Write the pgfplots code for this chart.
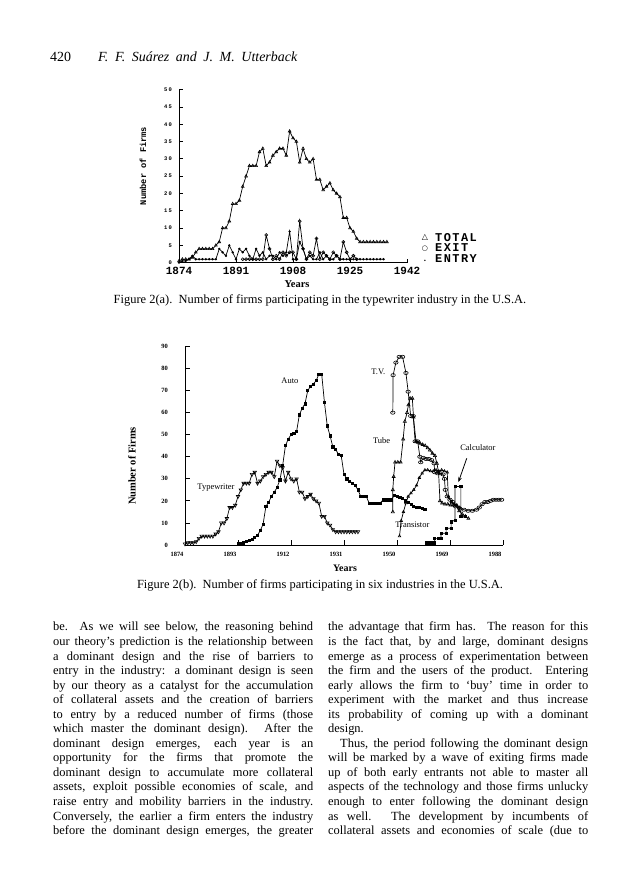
\documentclass[border=0pt]{standalone}
\usepackage{fontspec}
\setmainfont{Liberation Serif}
\newfontfamily\mono{Liberation Mono}
\newfontfamily\monols[LetterSpace=12]{Liberation Mono}
\newfontfamily\dejavu{DejaVu Sans}
\usepackage{pgfplots}
\pgfplotsset{compat=1.18}
\usepackage{pgfplotstable}
\usetikzlibrary{arrows.meta}

\pgfplotstableread{
yr v
1874 0.5
1875 1
1876 1
1877 1
1878 1.5
1879 3
1880 4
1881 4
1882 4
1883 4
1884 4
1885 5
1886 6
1887 10
1888 10
1889 12
1890 17
1891 17
1892 18
1893 22
1894 25
1895 28
1896 28
1897 28
1898 32
1899 33
1900 28
1901 29
1902 31
1903 32
1904 33
1905 33
1906 31
1907 38
1908 36
1909 35
1910 29
1911 33
1912 30
1913 29
1914 30
1915 24
1916 24
1917 21
1918 22
1919 23
1920 21
1921 20
1922 19
1923 13
1924 13
1925 10
1926 9
1927 7
1928 6
1929 6
1930 6
1931 6
1932 6
1933 6
1934 6
1935 6
1936 6
}\typewriter

\pgfplotstableread{
yr v
1874 0
1875 0.5
1876 0.5
1877 1
1878 2
1879 1
1880 1
1881 1
1882 1
1883 1
1884 1
1885 1
1886 4
1887 3
1888 2
1889 5
1890 3
1891 1
1892 4
1893 3
1894 4
1895 2
1896 1
1897 4
1898 2
1899 3
1900 1
1901 2
1902 2
1903 1
1904 3
1905 2
1906 3
1907 9
1908 1
1909 1
1910 6
1911 4
1912 1
1913 2
1914 1
1915 1
1916 3
1917 1
1918 2
1919 1
1920 1
1921 2
1922 1
1923 1
1924 1
1925 1
1926 1
1927 1
1928 1
1929 1
1930 1
1931 1
1932 1
1933 1
1934 1
1935 1
}\entry

\pgfplotstableread{
yr v
1893 1
1894 1
1895 1
1896 1
1897 1
1898 1
1899 1
1900 8
1901 4
1902 1
1903 2
1904 1
1905 3
1906 2
1907 3
1908 3
1909 1
1910 12
1911 4
1912 1
1913 3
1914 2
1915 7
1916 1
1917 3
1918 2
1919 1
1920 3
1921 2
1922 1
1923 6
1924 3
1925 1
1926 2
1927 1
}\exit

\pgfplotstableread{
yr v
1893 0.5
1894 0.5
1895 1
1896 1.5
1897 2
1898 2.5
1899 3.5
1900 4.5
1901 6.5
1902 9.5
1903 17.5
1904 19.5
1905 22
1906 24
1907 26
1908 29.5
1909 36
1910 45
1911 48
1912 50
1913 50.5
1914 51.5
1915 59
1916 62
1917 64
1918 70
1919 72
1920 73
1921 74.5
1922 77.5
1923 77.5
1924 64.5
1925 54
1926 49.5
1927 44.5
1928 43.5
1929 41
1930 40.5
1931 32
1932 30
1933 29
1934 28
1935 27
1936 25
1937 22
1938 22
1939 22
1940 19
1941 19
1942 19
1943 19
1944 19
1945 20.5
1946 20.5
1947 20.5
1948 20.5
1949 22.5
1950 22
1951 21.5
1952 21
1953 20
1954 19.5
1955 18.5
1956 17.5
1957 17
1958 17
1959 16.5
1960 16
}\auto

\pgfplotstableread{
yr v
1948.5 60
1948.6 77
1949.6 82.7
1950.8 85.3
1952 85.3
1953.2 78
1954 69.5
1954.9 58.5
1955.8 58.5
1956.5 47
1957.4 47
1958.2 40
1958.5 37.5
1959.4 39.5
1960.4 39
1961.4 39
1962.4 38.5
1963.3 37
1963.5 33
1964.5 32.5
1965.5 32.5
1966.5 32
1967 30
1967.3 25
1968 22
1969 20.5
1970 19.5
1971 17.5
1972.5 16.5
1974 16
1975.5 15.5
1977 15.5
1978.5 16
1979.5 17
1980.5 18.5
1981.5 19.5
1982.5 19.5
1983.5 20
1984.5 20.5
1985.5 20.5
1986.5 20.5
1987.5 20.5
}\tv

\pgfplotstableread{
yr v
1948.5 15
1948.5 25
1948.8 31
1949.3 37.5
1950.3 37.5
1951.3 37.5
1952.2 48
1952.8 56
1953.6 60
1954.1 63.5
1954.7 66.5
1955.5 66.5
1955.9 58
1956.8 47
1957.5 46.5
1958.3 46
1959.2 45.5
1960.1 45
1961 44
1961.8 43
1962.7 41.5
1963.6 40.5
1964.3 37
1964.9 33
1965.4 20
1966.2 19
1967.2 18.5
1968.2 18.5
1969.2 18
1970.2 18
1971.2 18
1972.3 15.5
1973.4 14
1974.5 13
1975.6 12
}\tube

\pgfplotstableread{
yr v
1950.9 4
1951.5 11
1952.3 15
1953.2 19
1954 22
1955 23.5
1956 25
1957 27
1958 30.5
1959 32.5
1960 34
1961 34
1962 33.5
1963 33.5
1964 34
1965 33.5
1966 34
1967 33.5
1968 33
1968.4 22
1969.5 19.5
1970.5 18.5
1971.5 18
1972.5 17
}\transistor

\pgfplotstableread{
yr v
1960.7 1
1962.1 1
1963.5 1
1963.5 3
1964.7 3
1965.8 3
1965.8 5.3
1967.6 5.3
1967.6 7.6
1969.4 7.6
1969.4 10.5
1970.8 11.3
1970.8 26.5
1972.9 26.5
1972.9 13
1974.4 13
}\calc

\newcommand{\bodyline}[1]{\makebox[260bp][s]{#1}\\}

\begin{document}
\begin{tikzpicture}[x=1bp,y=1bp]
\useasboundingbox (0,0) rectangle (638,896);

% ---------- running head ----------
\node[anchor=base west, inner sep=0, font=\fontsize{14}{16}\selectfont] at (50,834) {420};
\node[anchor=base west, inner sep=0, font=\fontsize{14}{16}\selectfont\itshape] at (98,834) {\makebox[199bp][s]{F. F. Suárez and J. M. Utterback}};

% ---------- Figure 2(a) ----------
\begin{axis}[
  at={(179bp,633.3bp)}, anchor=south west,
  scale only axis, width=228bp, height=173bp,
  xmin=1874, xmax=1942, ymin=0, ymax=50,
  axis x line=bottom, axis y line=left,
  axis line style={-, line width=0.9bp},
  tick align=inside, major tick length=4bp,
  tick style={line width=0.8bp, black},
  xtick={1874,1891,1908,1925,1942},
  xticklabels={1874,1891,1908,1925,1942},
  xticklabel style={font=\mono\bfseries\fontsize{11}{11}\selectfont, inner sep=0pt, yshift=-4.5bp},
  ytick={0,5,...,50},
  yticklabels={0,5,1\hspace{1bp}0,1\hspace{1bp}5,2\hspace{1bp}0,2\hspace{1bp}5,3\hspace{1bp}0,3\hspace{1bp}5,4\hspace{1bp}0,4\hspace{1bp}5,5\hspace{1bp}0},
  yticklabel style={font=\mono\bfseries\fontsize{5.5}{6}\selectfont, inner sep=0pt, xshift=-7bp},
  clip=false,
]
\addplot[black, line width=0.7bp, mark=triangle, mark size=1.6bp, mark options={solid, line width=0.6bp}] table {\typewriter};
\addplot[black, line width=0.7bp, mark=o, mark size=1.5bp, mark options={solid, line width=0.6bp}] table {\exit};
\addplot[black, line width=0.7bp, mark=*, mark size=0.8bp] table {\entry};
\end{axis}
\node[rotate=90, font=\mono\bfseries\fontsize{8.7}{9}\selectfont] at (143,730) {Number of Firms};
\node[font=\bfseries\fontsize{10.5}{11}\selectfont] at (297,611.5) {Years};
% legend
\node[font=\dejavu\fontsize{8}{8}\selectfont, inner sep=0] at (425,658.3) {△};
\node[font=\dejavu\fontsize{7}{7}\selectfont, inner sep=0] at (425,647.7) {○};
\node[font=\bfseries\fontsize{9}{9}\selectfont, anchor=base, inner sep=0] at (425,634.5) {.};
\node[anchor=base west, inner sep=0, font=\monols\bfseries\fontsize{12}{12}\selectfont] at (435,654.8) {TOTAL};
\node[anchor=base west, inner sep=0, font=\monols\bfseries\fontsize{12}{12}\selectfont] at (435,644.5) {EXIT};
\node[anchor=base west, inner sep=0, font=\monols\bfseries\fontsize{12}{12}\selectfont] at (435,633.2) {ENTRY};

\node[anchor=base, inner sep=0, font=\fontsize{12.5}{14}\selectfont] at (320,592) {Figure 2(a).\ \ Number of firms participating in the typewriter industry in the U.S.A.};

% ---------- Figure 2(b) ----------
\begin{axis}[
  at={(185bp,351bp)}, anchor=south west,
  scale only axis, width=318bp, height=198.5bp,
  xmin=1874, xmax=1988, ymin=0, ymax=90,
  axis x line=bottom, axis y line=left,
  axis line style={-, line width=0.9bp},
  tick align=inside, major tick length=5bp,
  tick style={line width=0.8bp, black},
  xtick={1874,1893,1912,1931,1950,1969,1988},
  xticklabels={1874,1893,1912,1931,1950,1969,1988},
  xticklabel style={font=\bfseries\fontsize{6.5}{7}\selectfont, inner sep=0pt, xshift=-8bp, yshift=-7bp},
  ytick={0,10,...,90},
  yticklabels={0,10,20,30,40,50,60,70,80,90},
  yticklabel style={font=\bfseries\fontsize{6.5}{7}\selectfont, inner sep=0pt, xshift=-17bp},
  clip=false,
]
\addplot[black, line width=0.7bp, mark=triangle, mark size=2bp, mark options={solid, rotate=180, line width=0.6bp}] table {\typewriter};
\addplot[black, line width=0.7bp, mark=square*, mark size=1.1bp] table {\auto};
\addplot[black, line width=0.7bp, mark=o, mark size=1.6bp, mark options={solid, xscale=1.4, line width=0.6bp}] table {\tv};
\addplot[black, line width=0.7bp, mark=triangle, mark size=1.8bp, mark options={solid, line width=0.6bp}] table {\tube};
\addplot[black, line width=0.7bp, mark=triangle, mark size=1.5bp, mark options={solid, line width=0.6bp}] table {\transistor};
\addplot[black, line width=0.7bp, mark=square*, mark size=1.1bp] table {\calc};
\node[font=\fontsize{8.5}{9}\selectfont] at (axis cs:1911.6,74.5) {Auto};
\node[font=\fontsize{8.5}{9}\selectfont] at (axis cs:1943.3,78.6) {T.V.};
\node[font=\fontsize{8.5}{9}\selectfont] at (axis cs:1944.5,47.2) {Tube};
\node[font=\fontsize{8.5}{9}\selectfont] at (axis cs:1979,44.3) {Calculator};
\node[font=\fontsize{8.5}{9}\selectfont] at (axis cs:1885.1,26.2) {Typewriter};
\node[font=\fontsize{8.5}{9}\selectfont] at (axis cs:1955.5,9.2) {Transistor};
\draw[-{Stealth[length=5bp]}, line width=0.8bp] (axis cs:1975,39.3) -- (axis cs:1972,28.5);
\end{axis}
\node[rotate=90, font=\bfseries\fontsize{10.5}{11}\selectfont] at (132,430) {Number of Firms};
\node[font=\bfseries\fontsize{10}{11}\selectfont] at (345,328) {Years};

\node[anchor=base, inner sep=0, font=\fontsize{12.5}{14}\selectfont] at (320,307) {Figure 2(b).\ \ Number of firms participating in six industries in the U.S.A.};

% ---------- body text ----------
\node[anchor=base west, inner sep=0] at (53,265) {\begin{minipage}[t]{260bp}\fontsize{12.5}{14.6}\selectfont\setlength{\parindent}{0pt}%
\bodyline{be. As we will see below, the reasoning behind}
\bodyline{our theory’s prediction is the relationship between}
\bodyline{a dominant design and the rise of barriers to}
\bodyline{entry in the industry: a dominant design is seen}
\bodyline{by our theory as a catalyst for the accumulation}
\bodyline{of collateral assets and the creation of barriers}
\bodyline{to entry by a reduced number of firms (those}
\bodyline{which master the dominant design). After the}
\bodyline{dominant design emerges, each year is an}
\bodyline{opportunity for the firms that promote the}
\bodyline{dominant design to accumulate more collateral}
\bodyline{assets, exploit possible economies of scale, and}
\bodyline{raise entry and mobility barriers in the industry.}
\bodyline{Conversely, the earlier a firm enters the industry}
\makebox[260bp][s]{before the dominant design emerges, the greater}
\end{minipage}};
\node[anchor=base west, inner sep=0] at (328,265) {\begin{minipage}[t]{260bp}\fontsize{12.5}{14.6}\selectfont\setlength{\parindent}{0pt}%
\bodyline{the advantage that firm has. The reason for this}
\bodyline{is the fact that, by and large, dominant designs}
\bodyline{emerge as a process of experimentation between}
\bodyline{the firm and the users of the product. Entering}
\bodyline{early allows the firm to ‘buy’ time in order to}
\bodyline{experiment with the market and thus increase}
\bodyline{its probability of coming up with a dominant}
design.\\
\hspace*{12bp}\makebox[248bp][s]{Thus, the period following the dominant design}\\
\bodyline{will be marked by a wave of exiting firms made}
\bodyline{up of both early entrants not able to master all}
\bodyline{aspects of the technology and those firms unlucky}
\bodyline{enough to enter following the dominant design}
\bodyline{as well. The development by incumbents of}
\makebox[260bp][s]{collateral assets and economies of scale (due to}
\end{minipage}};
\end{tikzpicture}
\end{document}
